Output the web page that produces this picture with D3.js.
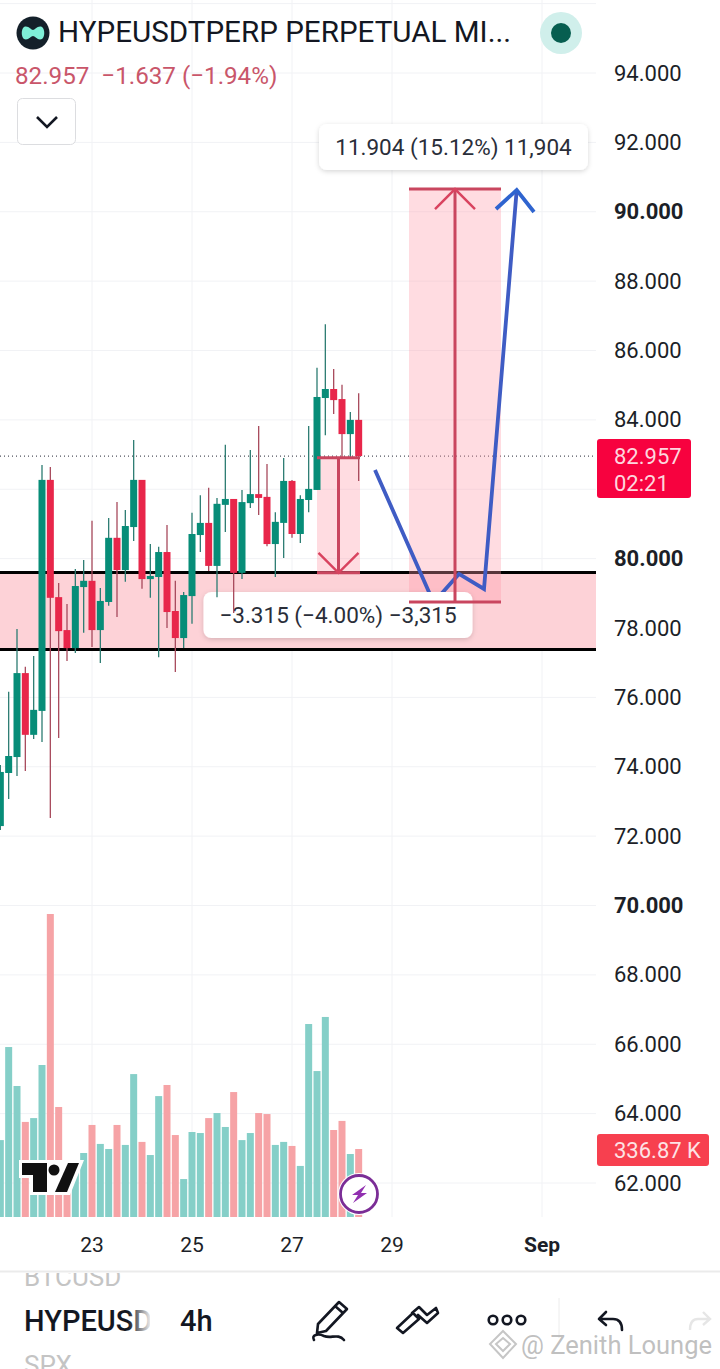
<!DOCTYPE html>
<html>
<head>
<meta charset="utf-8">
<script src="https://cdn.jsdelivr.net/npm/d3@7"></script>
<style>
  html, body { margin: 0; padding: 0; background: #fff; }
  svg { display: block; font-family: Roboto, sans-serif; }
</style>
</head>
<body>
<script>
// Candle data, 4h bars. First bar sits 11 bars before the 23rd
var firstBar = -11;
var barsPerDay = 6;
var opens = [72.29, 73.82, 74.28, 76.70, 74.92, 75.61, 82.27, 78.89, 77.94, 77.42, 79.18, 79.36, 77.94, 78.75, 80.60, 79.67, 80.91, 82.27, 79.41, 79.47, 80.19, 78.49, 77.71, 78.92, 80.68, 81.03, 79.79, 81.55, 81.72, 79.59, 81.60, 81.86, 81.78, 80.42, 81.03, 82.24, 80.71, 81.69, 81.98, 84.63, 84.89, 84.60, 83.59, 84.00];
var closes = [73.85, 74.31, 76.70, 74.92, 75.64, 82.27, 78.87, 77.91, 77.42, 79.21, 79.36, 77.94, 78.78, 80.60, 79.67, 80.94, 82.27, 79.41, 79.50, 80.19, 78.46, 77.71, 78.95, 80.71, 81.03, 79.79, 81.58, 81.72, 79.59, 81.63, 81.86, 81.75, 80.42, 81.06, 82.24, 80.71, 81.72, 82.01, 84.66, 84.89, 84.57, 83.59, 84.00, 82.957];
var highs = [74.05, 76.16, 77.97, 76.88, 77.19, 82.70, 82.64, 79.30, 78.69, 79.70, 79.96, 81.09, 79.15, 81.17, 81.63, 81.40, 83.42, 82.27, 80.42, 80.34, 80.97, 79.36, 79.04, 81.32, 81.83, 82.04, 81.75, 83.28, 81.72, 81.98, 83.13, 83.82, 82.73, 81.34, 82.90, 82.27, 81.83, 83.82, 85.50, 86.76, 85.47, 85.01, 84.23, 84.77];
var lows = [72.18, 73.07, 73.73, 73.88, 74.80, 74.71, 72.52, 74.83, 77.05, 77.28, 77.86, 77.45, 76.99, 78.64, 78.32, 79.33, 80.51, 79.13, 78.87, 77.16, 78.00, 76.73, 77.42, 78.12, 80.19, 79.64, 78.89, 80.77, 78.43, 79.41, 81.46, 81.26, 80.36, 79.47, 80.02, 80.60, 80.45, 81.34, 81.98, 83.56, 84.17, 82.93, 82.90, 82.24];
// Volume in thousands
var volumes = [381, 842, 649, 471, 490, 753, 1501, 545, 208, 258, 317, 456, 362, 337, 456, 357, 708, 372, 307, 599, 654, 406, 188, 421, 416, 490, 515, 446, 619, 381, 416, 515, 510, 357, 372, 352, 253, 956, 723, 991, 431, 476, 312, 336.87];

// Axis ticks. 82 has a grid line only, its label sits under the price tag
var priceTicks = [94, 92, 90, 88, 86, 84, 80, 78, 76, 74, 72, 70, 68, 66, 64, 62];
var gridOnlyPrices = [96, 82];
var boldPrices = [90, 80, 70];
var dayTicks = [23, 25, 27, 29, 32];
var dayLabels = ["23", "25", "27", "29", "Sep"];

// Drawings on the chart, [day, price]
var lastPrice = 82.957;
var zoneTop = 79.6;
var zoneBottom = 77.38;
var longDays = [29.34, 31.18];
var longPrices = [78.75, 90.654];
var shortDays = [27.5, 28.36];
var shortPrices = [82.905, 79.59];
var bluePath = [[28.66, 82.556], [29.832, 78.736], [30.34, 79.558], [30.84, 79.125], [31.494, 90.627]];
var blueHead = [[31.08, 90.08], [31.494, 90.627], [31.84, 89.993]];

var width = 720;
var height = 1369;
var chartRight = 596;
var volBase = 1217;
var teal = "#078d78";
var red = "#e8264a";

var svg = d3.select("body").append("svg")
  .attr("width", width)
  .attr("height", height);

var defs = svg.append("defs");
defs.append("filter").attr("id", "shadow")
  .attr("x", "-10%").attr("y", "-30%").attr("width", "120%").attr("height", "170%")
  .append("feDropShadow")
  .attr("dx", 0).attr("dy", 1.5).attr("stdDeviation", 2.5)
  .attr("flood-color", "#000").attr("flood-opacity", 0.16);
var fade = defs.append("linearGradient").attr("id", "fade")
  .attr("gradientUnits", "userSpaceOnUse")
  .attr("x1", 128).attr("x2", 150).attr("y1", 0).attr("y2", 0);
fade.append("stop").attr("offset", 0).attr("stop-color", "#131722");
fade.append("stop").attr("offset", 1).attr("stop-color", "#131722").attr("stop-opacity", 0.1);
var fadeGrey = defs.append("linearGradient").attr("id", "fadeGrey")
  .attr("gradientUnits", "userSpaceOnUse")
  .attr("x1", 118).attr("x2", 140).attr("y1", 0).attr("y2", 0);
fadeGrey.append("stop").attr("offset", 0).attr("stop-color", "#c4c4c4");
fadeGrey.append("stop").attr("offset", 1).attr("stop-color", "#c4c4c4").attr("stop-opacity", 0.1);
defs.append("clipPath").attr("id", "btcClip").append("rect")
  .attr("x", 0).attr("y", 1273).attr("width", 200).attr("height", 30);

// Scales
var x = d3.scaleLinear().domain([23, 25]).range([92, 192]);
var y = d3.scaleLinear().domain([94, 62]).range([73, 1183]);
var vol = d3.scaleLinear().domain([0, 336.87]).range([volBase, 1149]);

function barDay(i) { return 23 + (i + firstBar) / barsPerDay; }

// Grid
var gridColor = "#f1f2f5";
svg.append("g").selectAll("line")
  .data(gridOnlyPrices.concat(priceTicks))
  .join("line")
  .attr("x1", 0).attr("x2", chartRight)
  .attr("y1", function(d) { return y(d); })
  .attr("y2", function(d) { return y(d); })
  .attr("stroke", gridColor).attr("stroke-width", 1);
svg.append("g").selectAll("line")
  .data(dayTicks)
  .join("line")
  .attr("x1", function(d) { return x(d); })
  .attr("x2", function(d) { return x(d); })
  .attr("y1", 0).attr("y2", volBase)
  .attr("stroke", gridColor).attr("stroke-width", 1);

// Support zone
svg.append("rect")
  .attr("x", 0).attr("width", chartRight)
  .attr("y", y(zoneTop)).attr("height", y(zoneBottom) - y(zoneTop))
  .attr("fill", "#fdd2d7");
svg.append("g").selectAll("line")
  .data([zoneTop, zoneBottom])
  .join("line")
  .attr("x1", 0).attr("x2", chartRight)
  .attr("y1", function(d) { return y(d); })
  .attr("y2", function(d) { return y(d); })
  .attr("stroke", "#000").attr("stroke-width", 3);

// Last price line
svg.append("line")
  .attr("x1", 0).attr("x2", chartRight)
  .attr("y1", y(lastPrice)).attr("y2", y(lastPrice))
  .attr("stroke", "#50535e").attr("stroke-width", 1.2)
  .attr("stroke-dasharray", "1 3");

// Pale measure boxes
function measureBox(days, prices) {
  svg.append("rect")
    .attr("x", x(days[0]))
    .attr("width", x(days[1]) - x(days[0]))
    .attr("y", y(d3.max(prices)))
    .attr("height", y(d3.min(prices)) - y(d3.max(prices)))
    .attr("fill", "#ff9aa8").attr("opacity", 0.35);
}
measureBox(longDays, longPrices);
measureBox(shortDays, shortPrices);

// Blue projected path
var blueLine = d3.line()
  .x(function(d) { return x(d[0]); })
  .y(function(d) { return y(d[1]); });
svg.append("path").attr("d", blueLine(bluePath))
  .attr("fill", "none").attr("stroke", "#3f5cc4").attr("stroke-width", 3.8)
  .attr("stroke-linejoin", "miter");
svg.append("path").attr("d", blueLine(blueHead))
  .attr("fill", "none").attr("stroke", "#2f64cf").attr("stroke-width", 3.8);

// Label boxes
function labelBox(cx, cy, txt) {
  svg.append("rect")
    .attr("x", cx - 134.5).attr("y", cy - 23)
    .attr("width", 269).attr("height", 46).attr("rx", 8)
    .attr("fill", "#fff").attr("filter", "url(#shadow)");
  svg.append("text")
    .attr("x", cx).attr("y", cy + 8)
    .attr("text-anchor", "middle")
    .attr("font-size", 22.5).attr("fill", "#2a2e39")
    .text(txt);
}
labelBox(453.5, 147, "11.904 (15.12%) 11,904");
labelBox(338, 615, "\u22123.315 (\u22124.00%) \u22123,315");

// Volume bars
svg.append("g").selectAll("rect")
  .data(volumes)
  .join("rect")
  .attr("x", function(d, i) { return x(barDay(i)) - 3.5; })
  .attr("width", 7)
  .attr("y", function(d) { return vol(d); })
  .attr("height", function(d) { return volBase - vol(d); })
  .attr("fill", function(d, i) { return closes[i] < opens[i] ? "#f6a3a6" : "#85cfc8"; });

// Candles
var candles = svg.append("g").selectAll("g")
  .data(opens)
  .join("g");
candles.append("line")
  .attr("x1", function(d, i) { return x(barDay(i)); })
  .attr("x2", function(d, i) { return x(barDay(i)); })
  .attr("y1", function(d, i) { return y(highs[i]); })
  .attr("y2", function(d, i) { return y(lows[i]); })
  .attr("stroke-width", 1.3)
  .attr("stroke", function(d, i) { return closes[i] < opens[i] ? "#a84a5c" : "#2c7c72"; });
candles.append("rect")
  .attr("x", function(d, i) { return x(barDay(i)) - 3.5; })
  .attr("width", 7)
  .attr("y", function(d, i) { return y(Math.max(opens[i], closes[i])); })
  .attr("height", function(d, i) { return Math.abs(y(opens[i]) - y(closes[i])); })
  .attr("fill", function(d, i) { return closes[i] < opens[i] ? red : teal; });

// Measure arrows, red, on top
function measureArrow(days, prices, head) {
  var mid = x((days[0] + days[1]) / 2);
  var g = svg.append("g").attr("fill", "none").attr("stroke", "#c9465f");
  g.append("line").attr("x1", mid).attr("x2", mid)
    .attr("y1", y(prices[0])).attr("y2", y(prices[1])).attr("stroke-width", 3);
  g.selectAll(".bar").data(prices).join("line")
    .attr("x1", x(days[0])).attr("x2", x(days[1]))
    .attr("y1", function(d) { return y(d); })
    .attr("y2", function(d) { return y(d); })
    .attr("stroke-width", 3);
  g.append("path")
    .attr("d", "M" + (mid - 20) + "," + (y(prices[1]) - head) +
      "L" + mid + "," + y(prices[1]) +
      "L" + (mid + 20) + "," + (y(prices[1]) - head))
    .attr("stroke", "#d9435f").attr("stroke-width", 2.4);
}
measureArrow(longDays, longPrices, -20);
measureArrow(shortDays, shortPrices, 20);

// Price axis
var priceAxis = d3.axisRight(y)
  .tickValues(priceTicks)
  .tickSize(0).tickPadding(0)
  .tickFormat(d3.format(".3f"));
var gy = svg.append("g").attr("transform", "translate(614,0)").call(priceAxis);
gy.select(".domain").remove();
gy.selectAll("text")
  .attr("font-family", "Roboto, sans-serif")
  .attr("font-size", 22)
  .attr("fill", "#1c1f28")
  .attr("font-weight", function(d) { return boldPrices.indexOf(d) >= 0 ? 700 : 400; });

// Time axis
var timeAxis = d3.axisBottom(x)
  .tickValues(dayTicks)
  .tickSize(0).tickPadding(0)
  .tickFormat(function(d, i) { return dayLabels[i]; });
var gx = svg.append("g").attr("transform", "translate(-0.5,1237)").call(timeAxis);
gx.select(".domain").remove();
gx.selectAll("text")
  .attr("font-family", "Roboto, sans-serif")
  .attr("font-size", 21)
  .attr("fill", "#1c1f28")
  .attr("font-weight", function(d) { return d === 32 ? 700 : 400; });

// Price tags on the axis
svg.append("rect").attr("x", 597).attr("y", 439).attr("width", 94).attr("height", 59).attr("rx", 3).attr("fill", "#f7023f");
svg.append("text").attr("x", 614).attr("y", 463.5).attr("font-size", 22).attr("fill", "#fdd7de").text(d3.format(".3f")(lastPrice));
svg.append("text").attr("x", 614).attr("y", 490.5).attr("font-size", 22).attr("fill", "#fdd7de").text("02:21");
svg.append("rect").attr("x", 597).attr("y", 1134).attr("width", 112).attr("height", 32).attr("rx", 3).attr("fill", "#f7404f");
svg.append("text").attr("x", 614).attr("y", 1158).attr("font-size", 22).attr("fill", "#fde3e5")
  .text(d3.format(".2f")(volumes[volumes.length - 1]) + " K");

// Header
svg.append("circle").attr("cx", 33).attr("cy", 33).attr("r", 16.5).attr("fill", "#14202a");
svg.append("path")
  .attr("d", "M24,27 C28,25 31,30 33,30 C35,30 38,25 42,27 C45,29 45,37 42,39 C38,41 35,36 33,36 C31,36 28,41 24,39 C21,37 21,29 24,27Z")
  .attr("fill", "#7ff0d8");
svg.append("text").attr("x", 58).attr("y", 42).attr("font-size", 29.6).attr("fill", "#131722")
  .text("HYPEUSDTPERP PERPETUAL MI...");
svg.append("text").attr("x", 15).attr("y", 84).attr("font-size", 24.2).attr("fill", "#c9566a")
  .attr("xml:space", "preserve").text("82.957  \u22121.637 (\u22121.94%)");
svg.append("rect").attr("x", 17.5).attr("y", 98.5).attr("width", 58).attr("height", 46).attr("rx", 5)
  .attr("fill", "#fff").attr("stroke", "#dcdde0").attr("stroke-width", 1);
svg.append("path").attr("d", "M37,117 L47,127 L57,117").attr("fill", "none")
  .attr("stroke", "#131722").attr("stroke-width", 2.6);
svg.append("circle").attr("cx", 561).attr("cy", 33).attr("r", 21).attr("fill", "#d0efeb");
svg.append("circle").attr("cx", 561).attr("cy", 33).attr("r", 10).attr("fill", "#075e50");

// TradingView mark
svg.append("path").attr("d", "M19,1160 L84,1160 L70,1195 L30,1195 L30,1178 L19,1178Z").attr("fill", "#fff");
svg.append("path").attr("d", "M22,1163 L47,1163 L47,1192 L33,1192 L33,1175 L22,1175Z").attr("fill", "#111");
svg.append("circle").attr("cx", 54).attr("cy", 1170).attr("r", 5.5).attr("fill", "#111");
svg.append("path").attr("d", "M68,1163 L79,1163 L67,1192 L55,1192Z").attr("fill", "#111");

// Lightning badge
svg.append("circle").attr("cx", 359).attr("cy", 1194).attr("r", 21).attr("fill", "#fff");
svg.append("circle").attr("cx", 359).attr("cy", 1194).attr("r", 18.5).attr("fill", "#fff")
  .attr("stroke", "#7b2d96").attr("stroke-width", 2.8);
svg.append("path").attr("d", "M366,1185 L352,1195 L358,1195 L353,1203 L367,1193 L361,1193Z").attr("fill", "#9130b0");

// Bottom toolbar
svg.append("text").attr("x", 24).attr("y", 1286).attr("font-size", 26).attr("fill", "url(#fadeGrey)")
  .attr("clip-path", "url(#btcClip)").text("BTCUSD");
svg.append("line").attr("x1", 0).attr("x2", width).attr("y1", 1271.5).attr("y2", 1271.5)
  .attr("stroke", "#ebebeb").attr("stroke-width", 2);
svg.append("text").attr("x", 24).attr("y", 1331).attr("font-size", 29).attr("font-weight", 500).attr("fill", "url(#fade)")
  .text("HYPEUSD");
svg.append("rect").attr("x", 150).attr("y", 1300).attr("width", 25).attr("height", 40).attr("fill", "#fff");
svg.append("text").attr("x", 180).attr("y", 1331).attr("font-size", 29).attr("font-weight", 500).attr("fill", "#131722")
  .text("4h");
svg.append("text").attr("x", 24).attr("y", 1374).attr("font-size", 26).attr("fill", "#c4c4c4").text("SPX");

var icons = svg.append("g").attr("fill", "none").attr("stroke", "#131722").attr("stroke-width", 2.6)
  .attr("stroke-linejoin", "round").attr("stroke-linecap", "round");
// Pen
icons.append("path").attr("d", "M318,1324 L339,1302 L347,1309 L326,1331 L317,1333Z M335,1306 L343,1313");
icons.append("path").attr("d", "M314,1340 C311,1335 318,1333 324,1336 C331,1339 338,1333 344,1340");
// Multi line tool
icons.append("path").attr("d", "M397,1328 L413,1313 L419,1319 L403,1333Z M412,1313 L419,1307 L427,1315 L436,1308 L438,1313 L427,1323 L418,1315");
// Three dots
[493, 507, 521].forEach(function(cx) {
  icons.append("circle").attr("cx", cx).attr("cy", 1320).attr("r", 4.3);
});
svg.append("line").attr("x1", 559).attr("x2", 559).attr("y1", 1298).attr("y2", 1338).attr("stroke", "#ececec");
// Undo and redo
icons.append("path").attr("d", "M606,1312 L599,1319 L606,1325 M599,1319 L613,1319 C620,1319 622,1324 622,1330");
svg.append("path").attr("d", "M703,1312 L710,1319 L703,1325 M710,1319 L698,1319 C692,1319 690,1324 690,1330")
  .attr("fill", "none").attr("stroke", "#e6e6e6").attr("stroke-width", 2.4);

// Watermark
svg.append("path").attr("d", "M503,1331 L516,1344 L503,1358 L490,1344Z M503,1338 L510,1344 L503,1351 L496,1344Z")
  .attr("fill", "none").attr("stroke", "#c6c6c6").attr("stroke-width", 2);
svg.append("text").attr("x", 521).attr("y", 1354).attr("font-size", 25.5).attr("fill", "#b8b8b8")
  .attr("fill-opacity", 0.9).text("@ Zenith Lounge");
</script>
</body>
</html>
